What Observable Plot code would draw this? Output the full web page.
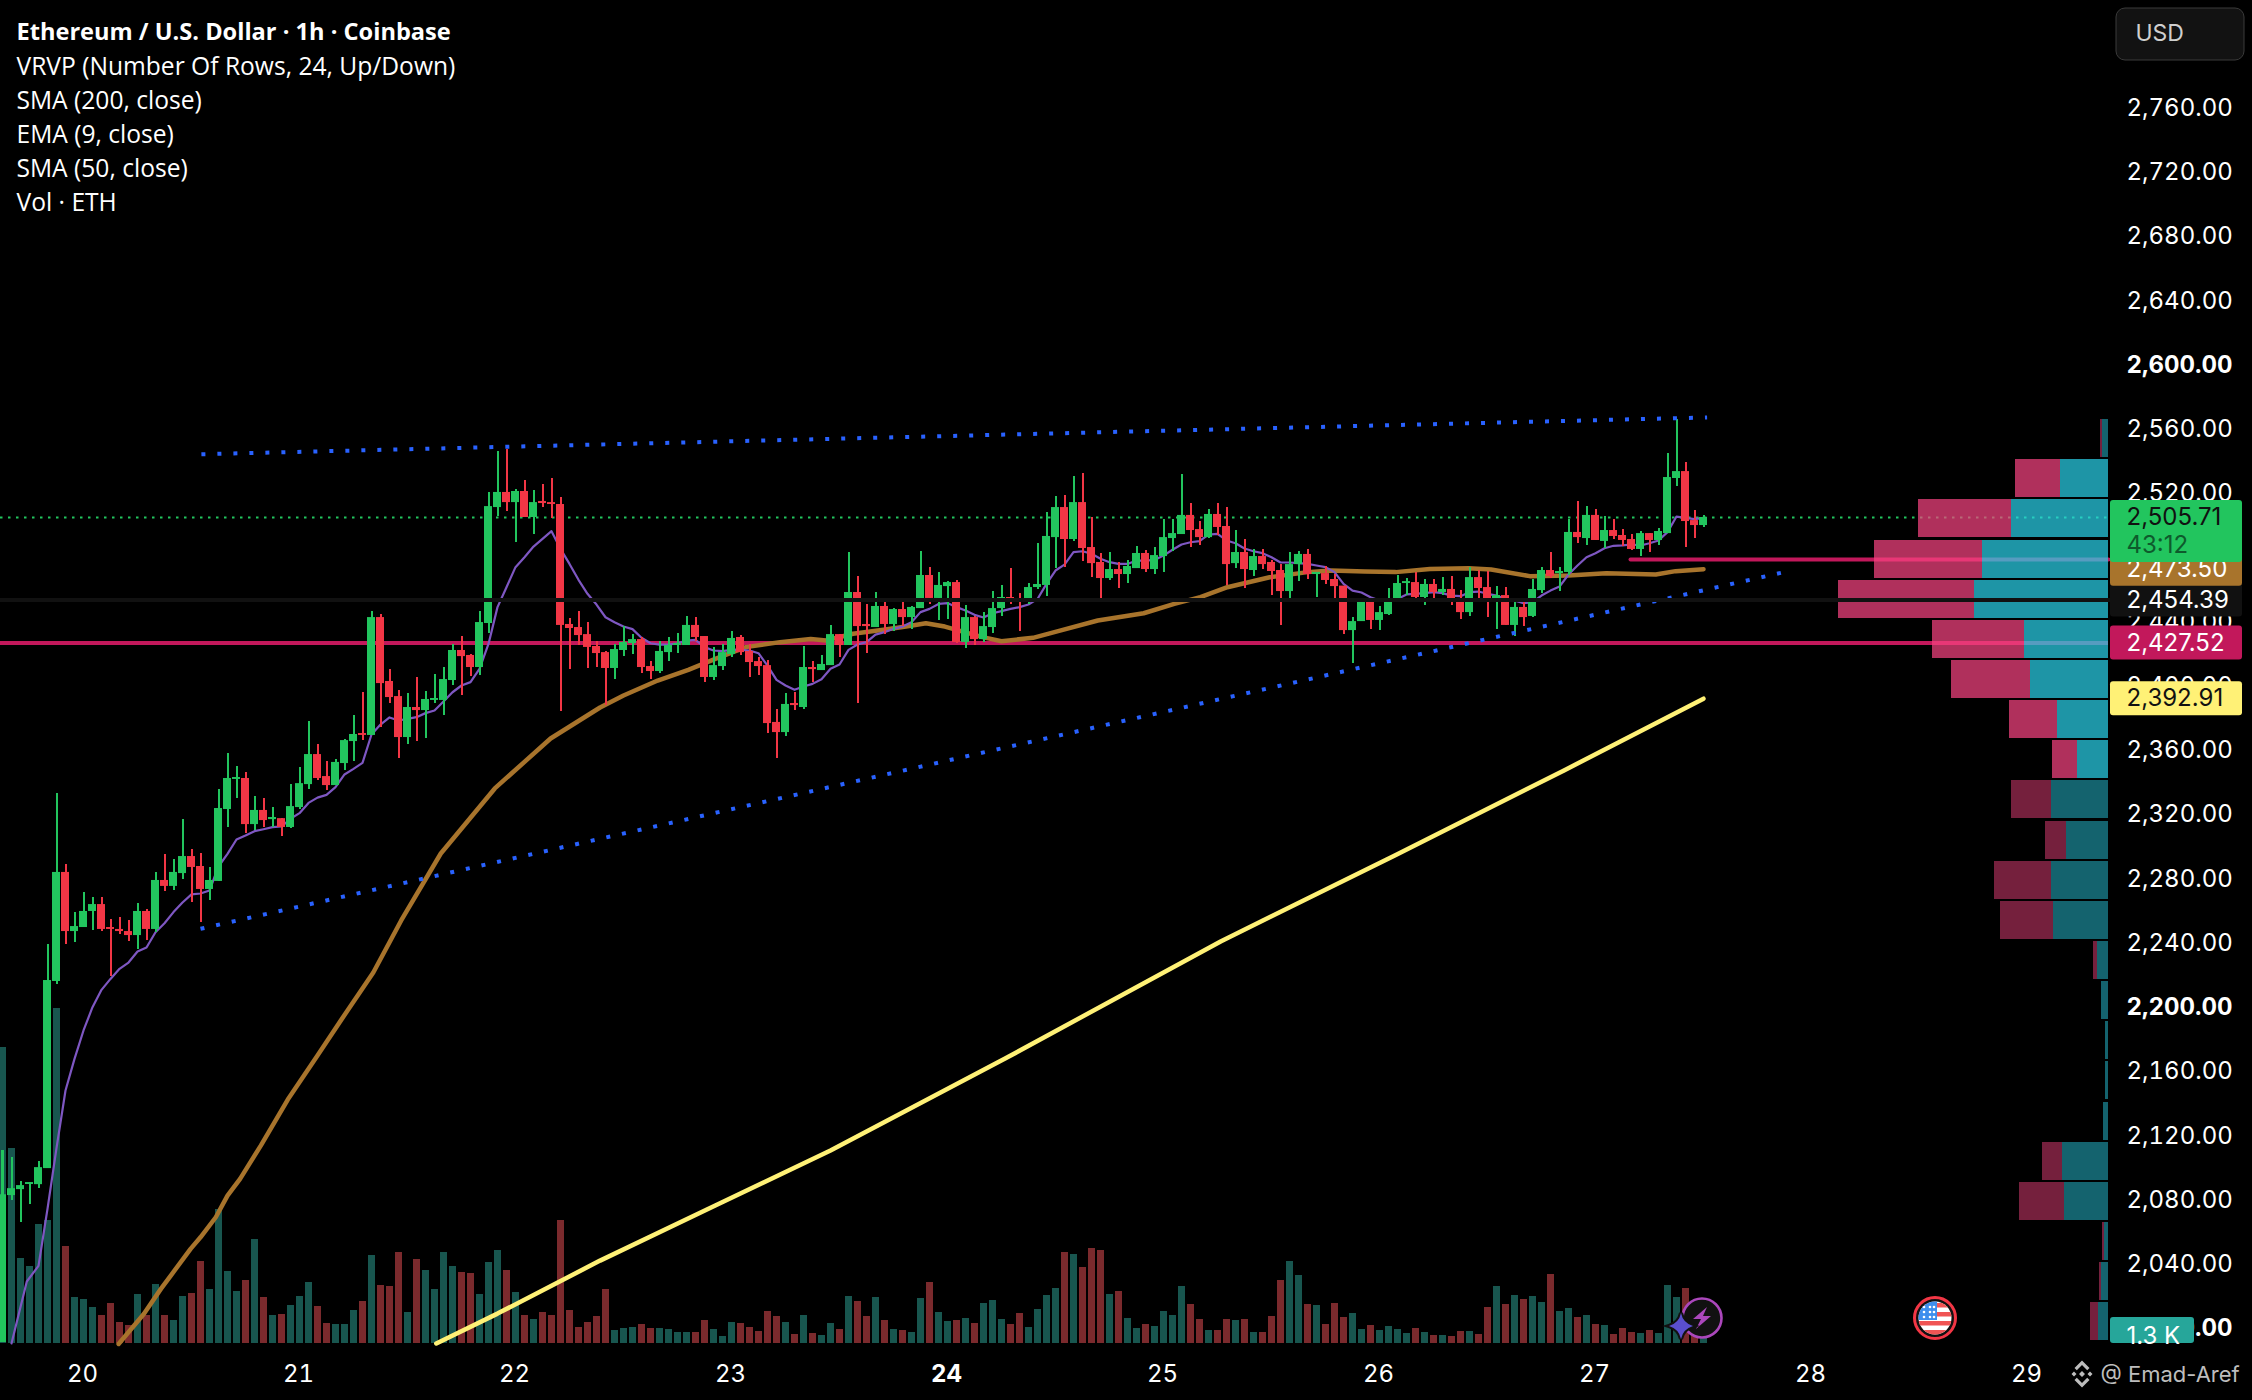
<!DOCTYPE html>
<html><head><meta charset="utf-8">
<script src="https://cdn.jsdelivr.net/npm/d3@7"></script>
<script src="https://cdn.jsdelivr.net/npm/@observablehq/plot@0.6"></script>
<style>html,body{margin:0;padding:0;background:#000}svg{display:block}</style>
</head><body><div id="chart"></div>
<script>
// hour index of the first bar, relative to day 20 00:00
const firstBar = -9;
const openP = [1992,2083.5,2087.2,2090.4,2090.3,2100.3,2216.8,2284.7,2247.9,
2250.4,2260.4,2264.7,2250.4,2249.2,2247.9,2245.4,2260.4,2249.2,2279.7,
2276,2284,2294.6,2288.4,2274.1,2279.1,2323.9,2342.6,2343.2,2314.5,
2323.3,2317.6,2318.2,2312.7,2325.1,2339.4,2358.1,2344.4,2338.8,2352.5,
2366.2,2371.2,2370,2443.4,2403.6,2394.2,2368.7,2387.4,2385.5,2391.8,
2391.8,2404.2,2422.9,2419.8,2412.3,2439.7,2511.9,2521.3,2515,2521.9,
2505.7,2515.7,2515,2513.8,2439.1,2437.2,2432.8,2425.4,2421.6,2411.7,
2422.9,2427.2,2429.7,2412.9,2409.8,2421.6,2426,2426,2438.5,2431.6,
2406.1,2412.9,2420.4,2431,2422.3,2416,2413.5,2378.1,2371.8,2389.9,
2387.4,2412.3,2410.4,2413.5,2432.8,2426,2459,2439.1,2437.2,2450.3,
2439.1,2448.4,2443.4,2449,2469.6,2455.3,2462.7,2465.2,2427.9,2443.4,
2429.7,2437.2,2449,2455.9,2454.6,2452.8,2462.1,2463.4,2493.2,2511.9,
2492,2515,2487,2477.7,2467.7,2473.3,2470.2,2473.9,2483.3,2473.3,
2481.4,2492.6,2495.1,2507,2498.2,2493.2,2507.6,2500.1,2477,2483.9,
2472.7,2481.4,2477.7,2472.7,2459.6,2476.4,2482.7,2470.2,2470.8,2467.1,
2463,2435.3,2440.9,2452.8,2441.6,2445.3,2454.6,2464.6,2465.2,2455.9,
2464,2459,2460.9,2452.8,2446.5,2468.3,2462.1,2452.8,2457.1,2438.5,
2449.7,2444.1,2460.2,2472.7,2470.8,2471.5,2496.4,2492.6,2507,2490.8,
2497.6,2494.5,2492,2485.8,2495.7,2491.4,2495.7,2530,2534.3,2503.8,2500.7];
const highP = [2111.5,2107,2092.2,2091.6,2104.7,2239.8,2333.6,2289.6,2259.7,
2272.2,2269,2269,2255.4,2256.6,2254.8,2265.4,2261.6,2284.7,2295.9,
2292.8,2317.7,2299,2296.5,2287.8,2336.3,2358.7,2350.7,2347,2332,
2330.7,2325.1,2318.3,2339.4,2350,2378.7,2364.3,2353.8,2355,2367.5,
2382.4,2396.7,2447.2,2445.3,2411,2398,2396.1,2406.1,2397.4,2407.9,
2412.3,2426.6,2431.6,2420.4,2447.2,2521.3,2546.8,2548,2523.1,2528.7,
2522.5,2526.2,2530,2518.2,2442.8,2447.2,2440.3,2428.5,2422,2426.6,
2437.8,2432.8,2431.2,2416,2428.5,2431,2433.5,2444.1,2443.4,2431.6,
2424.7,2426.6,2434.7,2432.2,2426.6,2418.5,2416.7,2386.1,2396.1,2396.7,
2425.4,2416,2419.8,2438.5,2432.8,2483.9,2469,2451.5,2459,2452.8,
2449,2452.8,2450.3,2484.5,2474.6,2471.5,2465.8,2466.5,2450.9,2444,
2446.5,2459.6,2463.4,2473.9,2458.4,2464.6,2489.5,2508.8,2518.8,2519.4,
2531.2,2533.1,2505.7,2483,2483.9,2477.7,2478.9,2487.6,2485.2,2487,
2504.5,2504.5,2532.5,2514.4,2503.2,2510.7,2514.4,2511.9,2497.6,2492,
2485.8,2485.8,2479,2476.4,2483.9,2484.5,2485.8,2471.5,2475.2,2470.2,
2463,2443.4,2454,2454,2450.3,2461.5,2469.6,2467.7,2471.7,2467.1,
2467.1,2468.3,2469,2460.3,2474.6,2472.7,2472.1,2462.7,2462.1,2452.8,
2452.8,2467.1,2474.6,2483.9,2474.6,2504.5,2515.7,2512.5,2510.7,2506.3,
2504.5,2498.2,2495.1,2497,2495.7,2498.9,2545.6,2567,2539.9,2510,2507];
const lowP = [1992,2080.4,2066.9,2077.9,2087.8,2100.3,2214.9,2239.8,2241,
2250.4,2248.5,2247.9,2219.9,2246,2241.7,2236.7,2242.3,2247.3,2272.8,
2273.4,2280.3,2266,2253.5,2267.2,2279.1,2312.7,2330.7,2309,2310.8,
2312.9,2312.7,2307,2312,2323.9,2336.3,2341.9,2335.7,2338.8,2348.2,
2353.8,2366.8,2370,2374.9,2389.9,2355.6,2364.4,2366.2,2368.1,2389.9,
2382.4,2401.1,2394.9,2406.7,2407.3,2433.5,2506.3,2509.4,2490.1,2505.7,
2495.1,2511.9,2505.1,2384.9,2411.1,2426,2411.7,2412.3,2388.6,2404.8,
2419.1,2420.4,2408.6,2404.8,2408.6,2416,2421,2426,2428.5,2403,
2404.2,2410.4,2418.5,2419.8,2406.1,2407.3,2371.2,2355.6,2369.3,2385.5,
2386.1,2403,2410.4,2413.5,2418.5,2426,2389.9,2421,2437.2,2432.8,
2434.7,2437.8,2436,2449,2451.5,2441.6,2442.2,2427.2,2424.1,2426,
2427.9,2433.5,2444.1,2451.5,2434.7,2451.5,2460.9,2456.3,2473.9,2474.6,
2490.8,2478.3,2468.3,2455.3,2466.5,2461.5,2464.6,2473.9,2471.5,2470.2,
2471.5,2484.5,2495.1,2487,2488.3,2492.6,2494.5,2463.4,2473.9,2461.5,
2469,2473.3,2457.1,2438.5,2454.6,2465.8,2467.1,2455.9,2464,2455,
2432.8,2414.8,2440.9,2436,2435.3,2444.7,2453.5,2457.1,2455,2450.9,
2455.3,2457.1,2451,2442.2,2444.1,2455,2443.4,2436,2438.5,2431.6,
2437.8,2443.4,2458.4,2467.9,2459.6,2469.6,2489.5,2488.3,2491.4,2486.4,
2492,2487.6,2485.2,2481.4,2483.9,2488.3,2495.7,2525,2487,2492.6,2499.5];
const closeP = [2084,2087.8,2089.7,2091.6,2100.9,2217.4,2284.7,2247.9,2251,
2260.4,2264.7,2249.2,2249.2,2247.9,2245.4,2260.4,2249.2,2279.7,2276,
2284.7,2294.6,2287.8,2274.1,2279.7,2324.5,2343.2,2343.8,2314.5,2323.3,
2317,2318.9,2312.7,2325.7,2340,2358.1,2343.2,2338.8,2353.2,2366.8,
2370.6,2370,2443.4,2402.3,2393.6,2368.7,2387.4,2385.5,2392.4,2393,
2404.8,2422.9,2419.1,2412.3,2440.3,2512.5,2521.3,2515,2521.9,2505.7,
2515,2514.4,2513.8,2438.5,2436.6,2432.2,2424.8,2421,2411.7,2423.5,
2427.9,2429.7,2412.3,2409.8,2422.3,2426,2427.2,2438.5,2431,2406.1,
2413.5,2421.6,2430.4,2421.6,2415.4,2412.9,2377.4,2371.8,2389.3,2388.6,
2412.3,2411,2414.2,2432.8,2426,2459,2437.8,2437.8,2450.3,2439.1,
2448.4,2443.4,2449.7,2469.6,2455.3,2463.4,2465.2,2427.9,2443.4,2429.7,
2437.8,2449,2455.9,2454.6,2452.8,2462.1,2464,2493.9,2511.9,2492,
2515,2486.4,2477,2467.7,2473.3,2470.2,2475.2,2483.3,2473.3,2482,
2493.2,2495.7,2507,2497.6,2493.2,2507.6,2499.5,2476.4,2483.9,2473.3,
2481.4,2476.4,2472.1,2459.6,2476.4,2482.7,2470.2,2471.5,2466.5,2462.7,
2435.3,2440.9,2453.5,2441.6,2446.5,2455,2464.6,2465.8,2455.9,2464,
2459,2460.9,2452.8,2446.5,2468.3,2461.5,2454.6,2457.1,2438.5,2449.7,
2443.4,2460.9,2472.7,2469,2472.1,2496.4,2493.2,2507,2491.4,2497.6,
2493.9,2491.4,2485.8,2495.7,2491.4,2497,2530.6,2534.3,2503.2,2500.7,2505.71];
// volume in thousands of ETH
const volumeK = [47.3,31.2,13.6,12.4,19.1,19.7,53.6,15.6,7.4,
7.1,5.8,4.5,6.4,3.3,2.8,7.9,4.4,9.5,4.5,
3.7,7.6,8,13.2,8.7,21.5,11.6,8.4,10.1,16.7,
7.4,4.5,4.6,6.1,7.5,9.8,5.9,3.2,3,3,
5.3,6.7,14.1,9.3,9.1,14.6,5,13.4,11.7,8.6,
14.6,12.3,11.4,11.2,7.8,13,14.9,11.7,8.2,4.5,
3.8,5,4.5,19.7,5.3,2.6,3.4,4.3,8.6,2.1,
2.4,2.6,3,2.4,2.4,2.2,1.8,1.8,1.8,3.7,
2.2,1.1,3.4,3.2,2.6,1.9,5.1,4.3,3.4,1.4,
4.5,1.6,1.3,3.2,2.2,7.5,6.7,4.3,7.4,3.7,
2.2,2.1,1.8,7.2,9.8,5,3.5,3.7,4,3.2,
6.4,6.9,3.8,3,4.8,2.6,5.4,7.7,8.8,14.6,
14.2,12.2,15.2,14.9,7.8,8.3,4,2.4,3,2.7,
5.1,4.5,9.1,6.2,3.8,2.1,2.1,3.8,3.7,3.8,
1.8,1.8,4.3,10.1,13.1,10.9,6.2,6.1,3,6.4,
4.2,4.8,2.2,2.9,2.1,2.7,2.2,1.6,2.4,1.8,
1.3,1.3,1.1,1.9,1.9,1.4,5.8,9.1,6.2,7.7,
7,7.5,6.6,11,5.1,5.6,4.2,4.5,3,2.9,
1.4,2.4,1.8,1.6,2.1,1.6,9.3,7.4,8.8,1.2,1.3];
const ema9Start = -4;
const ema9 = [2075.2,2113,2148.9,2168.6,
2186.3,2200.8,2211.6,2218.4,2224.7,2228.6,2235.5,2238,2247.5,2253.1,
2260,2266,2271,2271.6,2273.5,2288.4,2296.3,2305.2,2307.7,2310.4,
2311.6,2312.9,2313.3,2318.1,2321.6,2328,2331.3,2333,2337.8,2345.7,
2349.2,2352.9,2370.6,2376.8,2381.2,2379.3,2380.3,2381.4,2383.9,2385.5,
2391.1,2396.9,2401.1,2403.2,2411.5,2427,2449.9,2462.3,2474.8,2481,
2487.6,2492.4,2497.2,2486.2,2476.8,2466.9,2458.2,2451.5,2443.6,2440.5,
2437.8,2436.2,2430.8,2427.4,2426.6,2426.6,2427.4,2429.1,2429.5,2425,
2422.9,2422.5,2423.3,2423.3,2422.9,2421.2,2413.5,2404.6,2401.1,2398.4,
2400.5,2402.1,2405,2411.5,2414.2,2423.3,2426.6,2428.1,2432.8,2434.3,
2436.4,2437.8,2440.5,2446.8,2448.8,2451.9,2452.4,2449.9,2447.8,2445.1,
2443.4,2446.1,2447.4,2448.8,2449.9,2451.5,2455,2464.4,2472.7,2476.4,
2484.1,2484.7,2483.1,2480,2477.9,2476.8,2476.8,2478.9,2478.9,2479.3,
2482,2485.6,2488.9,2490.3,2491,2495.1,2495.5,2491.4,2489.7,2486.4,
2484.7,2483.5,2481,2477.7,2477.7,2477.3,2476.8,2475.8,2474.8,2471.7,
2464.4,2460.2,2459,2456.1,2454,2453.6,2455,2457.8,2458.2,2458.6,
2459.2,2458.6,2457.1,2456.7,2459.2,2459.6,2458.2,2457.1,2455,2454,
2452.4,2453,2457.1,2460.2,2462.7,2470.2,2475.8,2481,2483.5,2486.6,
2488.1,2488.3,2488.9,2488.3,2489.7,2491.4,2496.6,2506.3,2505.5,2504.7,2505.5];
const emaLeadBar = [-8,-6.3,-5], emaLead = [1991.4,2030,2039.7];
const sma50Bar = [3.9,6.7,8.6,9.7,11.9,13,14.7,16,17.4,19.7,22.7,26,29,32.2,35.3,39.7,45.7,51.9,57.4,60,63.8,67.2,70.2,73.6,77.4,80.8,82.5,85.5,88.9,91.4,93.6,95.7,99.9,102,105.5,108.5,112.7,117.8,121.2,124.1,127.1,131.8,136,138.6,142.4,145.8,149.6,153.9,156.4,160.7,165,169.2,174.7,176.9,180];
const sma50 = [1991.1,2009.8,2025.4,2033.7,2050.3,2057.5,2070,2083.5,2093.9,2114.6,2143.3,2170.7,2196,2222.4,2254.8,2296.5,2337,2368.1,2387.4,2394.9,2404.2,2410.8,2417.7,2425,2428.1,2430,2429.1,2433.3,2435.8,2437.8,2439.9,2437.8,2431.2,2428.7,2430.8,2435.3,2441.6,2446.1,2451.9,2456.1,2462.3,2468.5,2471.7,2472.7,2472.1,2471.7,2473.7,2474.1,2473.3,2469.2,2469.6,2471,2470.2,2472.3,2473.5];
const sma200Bar = [39.2,46,57.4,70.2,83,102.4,126.4,145.7,164.5,180];
const sma200 = [1991.4,2010,2043,2077.3,2111.6,2168.8,2241.9,2295.2,2348.2,2392.91];
const resistanceBar = [13.1,180.4], resistance = [2545.1,2568];
const supportBar = [13,189.6], support = [2249.6,2472.5];
// Visible-range profile, thousands of ETH per price row
const rowTop = [2566.7,2541.7,2516.7,2491.7,2466.7,2441.7,2416.7,2391.7,2366.7,2341.7,2316.7,2291.7,2266.7,2241.7,2216.7,2191.7,2166.7,2141.7,2116.7,2091.7,2066.7,2041.7,2016.7];
const rowUp = [3,24,48.5,63,67,42,39,25.5,15.5,28.5,21,28.5,27.5,5.5,3.5,1.5,1.5,2.5,23,22,2,3.5,5];
const rowDown = [1,22.5,46.5,54,68,46,39.5,24,12.5,20,10.5,28.5,26.5,2,0,0,0,0,10,22.5,1,1,4];
const rowInValueArea = [0,1,1,1,1,1,1,1,1,0,0,0,0,0,0,0,0,0,0,0,0,0,0];
const yTicks = [2760,2720,2680,2640,2560,2520,2440,2400,2360,2320,2280,2240,2160,2120,2080,2040];
const yTicksBold = [2600,2200,2000];
const dayTicks = [0,24,48,72,120,144,168,192,216];
const dayTickBold = [96];
const dayLabels = [20,21,22,23,24,25,26,27,28,29];
const lastPrice = 2505.71, sma50Last = 2473.5, hiddenLevel = 2454.39, supportLevel = 2427.52, sma200Last = 2392.91, upperLevel = 2479.6;
const legendTitle = "Ethereum / U.S. Dollar · 1h · Coinbase";
const legendLines = ["VRVP (Number Of Rows, 24, Up/Down)","SMA (200, close)","EMA (9, close)","SMA (50, close)","Vol · ETH"];

// ---------- tables -----------
const bars = openP.map((o,k)=>({i:firstBar+k,o,h:highP[k],l:lowP[k],c:closeP[k],v:volumeK[k],up:closeP[k]>=o}));
const zip = (xs,ys)=>xs.map((i,k)=>({i,p:ys[k]}));
const emaRows = [...zip(emaLeadBar,emaLead),...ema9.map((p,k)=>({i:ema9Start+k,p}))];
const profile = rowTop.map((top,k)=>({top,up:rowUp[k],down:rowDown[k],va:rowInValueArea[k]}));

// ---------- layout mapping -----------
const W=2252,H=1400,barPx=9,x0Px=83;
const ix = px => (px-x0Px)/barPx;                 // pixel → bar index
const pUnit = 1.606;                              // px per USD
const dP = px => px/pUnit;
const volBase = 1991.4, volScale = 3.89;           // volume pane sits on the price scale
const profRight = ix(2108), profK = 2/barPx;       // profile pane: 1K = 2 px
const GREEN="#22C55E",RED="#F23645",PINK="#C2185B";
const FONT="Inter";
const F=24;
const LABEL_X=2126;
const fmt = d=>d3.format(",.2f")(d);

function tag(price,y1,y2,fill,x2=2242){
  return Plot.rect([{}],{x1:ix(2110),x2:ix(x2),y1:price+dP(y1),y2:price+dP(y2),fill,r:3});
}
const tagText = (price,text,fill,dy=0,opts={}) => Plot.text([price],{y:d=>d,frameAnchor:"right",dx:LABEL_X-W,dy,text:()=>text,textAnchor:"start",fill,fontSize:F,fontFamily:FONT,lineAnchor:"middle",...opts});

function icons(index,{x,y}){
  const g=d3.create("svg:g");
  // US flag badge
  const f=g.append("g").attr("transform","translate(1935,1318)");
  f.append("circle").attr("r",20.5).attr("fill","#111").attr("stroke",RED).attr("stroke-width",3);
  const cp=d3.create("svg:clipPath").attr("id","flagclip"); cp.append("circle").attr("r",16.5);
  f.node().appendChild(cp.node());
  const fl=f.append("g").attr("clip-path","url(#flagclip)");
  fl.append("rect").attr("x",-17).attr("y",-17).attr("width",34).attr("height",34).attr("fill","#fff");
  [[-15,4.5],[-6,4.5],[3,4.5],[12,5]].forEach(([yy,h])=>fl.append("rect").attr("x",-17).attr("y",yy).attr("width",34).attr("height",h).attr("fill","#F05454"));
  fl.append("rect").attr("x",-17).attr("y",-17).attr("width",19).attr("height",19).attr("fill","#3E8EED");
  [[-11,-11],[-5,-11],[-11,-6],[-5,-6],[-11,-1],[-5,-1],[-1,-11],[-1,-6],[-1,-1]].forEach(([a,b])=>fl.append("circle").attr("cx",a).attr("cy",b).attr("r",1.3).attr("fill","#fff"));
  // lightning badge
  const l=g.append("g").attr("transform","translate(1702,1318)");
  l.append("circle").attr("r",19.5).attr("fill","#111").attr("stroke","#AB47BC").attr("stroke-width",2.6);
  l.append("path").attr("d","M5,-11 L-9,1 L-1,1 L-6,11 L9,-2 L1,-2 Z").attr("fill","#AB47BC");
  // AI star
  g.append("path").attr("transform","translate(1681,1326)").attr("d","M0,-13 Q2,-3 12,0 Q2,3 0,13 Q-2,3 -12,0 Q-2,-3 0,-13 Z").attr("fill","#5A4FCF").attr("stroke","#111").attr("stroke-width",4).attr("paint-order","stroke");
  // binance logo
  const b=g.append("g").attr("transform","translate(2082,1374)").attr("fill","#BDBDBD");
  b.append("path").attr("d","M0,-3 L3,0 L0,3 L-3,0 Z M-10.5,0 L-8,-2.5 L-5.5,0 L-8,2.5 Z M10.5,0 L8,-2.5 L5.5,0 L8,2.5 Z");
  b.append("path").attr("d","M0,-13.5 L7.5,-6 L5.2,-3.8 L0,-9 L-5.2,-3.8 L-7.5,-6 Z M0,13.5 L7.5,6 L5.2,3.8 L0,9 L-5.2,3.8 L-7.5,6 Z");
  // USD button
  const u=g.append("g");
  u.append("rect").attr("x",2116).attr("y",8).attr("width",128).attr("height",52).attr("rx",9).attr("fill","#121212").attr("stroke","#3a3a3a").attr("stroke-width",1);
  return g.node();
}

const chart = Plot.plot({
  width:W,height:H,margin:0,
  style:{background:"#000",fontFamily:FONT,color:"#fff"},
  x:{type:"linear",domain:[ix(0),ix(W)],range:[0,W],axis:null},
  y:{type:"linear",domain:[lastPrice-(H-517)/pUnit,lastPrice+517/pUnit],range:[H,0],axis:null},
  marks:[
    // volume pane
    Plot.rect(bars,{x1:d=>d.i-3.5/barPx,x2:d=>d.i+3.5/barPx,y1:volBase,y2:d=>volBase+d.v*volScale,fill:d=>d.up?"#18564F":"#7B2A2D",shapeRendering:"crispEdges"}),
    // horizontal levels
    Plot.ruleY([supportLevel],{x1:ix(0),x2:ix(2108),stroke:PINK,strokeWidth:4}),
    Plot.line([[ix(1630),upperLevel],[ix(2108),upperLevel]],{stroke:PINK,strokeWidth:4,strokeLinecap:"round"}),
    Plot.ruleY([lastPrice],{x1:ix(0),x2:ix(2108),stroke:GREEN,strokeWidth:2,strokeDasharray:"2.5,5.5"}),
    // moving averages
    Plot.line(zip(sma200Bar,sma200),{x:"i",y:"p",stroke:"#FFF176",strokeWidth:4.5,strokeLinecap:"round"}),
    Plot.line(zip(sma50Bar,sma50),{x:"i",y:"p",stroke:"#A8742C",strokeWidth:4.5,strokeLinecap:"round"}),
    Plot.line(emaRows,{x:"i",y:"p",stroke:"#7E57C2",strokeWidth:2.2}),
    // candles
    Plot.ruleX(bars,{x:"i",y1:"l",y2:"h",stroke:d=>d.up?GREEN:RED,strokeWidth:2,shapeRendering:"crispEdges"}),
    Plot.rect(bars,{x1:d=>d.i-4/barPx,x2:d=>d.i+4/barPx,y1:"o",y2:"c",fill:d=>d.up?GREEN:RED}),
    // trend lines
    Plot.line(zip(resistanceBar,resistance),{x:"i",y:"p",stroke:"#2962FF",strokeWidth:4,strokeDasharray:"4,12",strokeLinecap:"butt"}),
    Plot.line(zip(supportBar,support),{x:"i",y:"p",stroke:"#2962FF",strokeWidth:4,strokeDasharray:"4,12",strokeLinecap:"butt"}),
    // volume profile
    Plot.rect(profile,{x1:profRight,x2:d=>profRight-d.up*profK,y1:d=>d.top,y2:d=>d.top-dP(38),fill:"#2AD2EA",fillOpacity:d=>d.va?0.71:0.47,shapeRendering:"crispEdges"}),
    Plot.rect(profile,{x1:d=>profRight-d.up*profK,x2:d=>profRight-(d.up+d.down)*profK,y1:d=>d.top,y2:d=>d.top-dP(38),fill:"#F84482",fillOpacity:d=>d.va?0.71:0.47,shapeRendering:"crispEdges"}),
    Plot.ruleY([hiddenLevel],{x1:ix(0),x2:ix(2110),stroke:"#111",strokeWidth:4}),
    // axes
    Plot.axisY({anchor:"right",ticks:yTicks,tickSize:0,tickPadding:0,tickFormat:fmt,label:null,dx:LABEL_X-W,dy:-1,fontSize:F,fill:"#fff",fontFamily:FONT}),
    Plot.axisY({anchor:"right",ticks:yTicksBold,tickSize:0,tickPadding:0,tickFormat:fmt,label:null,dx:LABEL_X-W,dy:-1,fontSize:F,fill:"#fff",fontFamily:FONT,fontWeight:700}),
    Plot.axisX({anchor:"bottom",ticks:dayTicks,tickSize:0,tickPadding:0,tickFormat:d=>dayLabels[d/24],label:null,lineAnchor:"middle",dx:-1,dy:-26,fontSize:F,fill:"#fff",fontFamily:FONT}),
    Plot.axisX({anchor:"bottom",ticks:dayTickBold,tickSize:0,tickPadding:0,tickFormat:d=>dayLabels[d/24],label:null,lineAnchor:"middle",dx:-1,dy:-26,fontSize:F,fill:"#fff",fontFamily:FONT,fontWeight:700}),
    // price tags
    tag(sma200Last,17,-17,"#FFF176"),
    tagText(sma200Last,fmt(sma200Last),"#111"),
    tag(supportLevel,17,-17,PINK),
    tagText(supportLevel,fmt(supportLevel),"#fff"),
    tag(hiddenLevel,17,-17,"#111"),
    tagText(hiddenLevel,fmt(hiddenLevel),"#fff"),
    tag(sma50Last,17,-17,"#A8742C"),
    tagText(sma50Last,fmt(sma50Last),"#fff"),
    tag(lastPrice,17,-45,GREEN),
    tagText(lastPrice,fmt(lastPrice),"#111"),
    tagText(lastPrice,"43:12","#0E5A2C",28),
    // 1.3K volume tag (sits on the pane's floor)
    Plot.rect([{}],{x1:ix(2110),x2:ix(2194),y1:volBase,y2:volBase+dP(26),fill:"#26A69A",r:3}),
    Plot.text(["1.3 K"],{frameAnchor:"bottom-right",dx:LABEL_X-W,dy:-57,text:d=>d,textAnchor:"start",fill:"#fff",fontSize:F,fontFamily:FONT}),
    // decorations
    icons,
    Plot.text(["USD"],{frameAnchor:"top-left",dx:2135,dy:33,text:d=>d,textAnchor:"start",lineAnchor:"middle",fill:"#CFCFCF",fontSize:23,fontFamily:FONT}),
    Plot.text(["@ Emad-Aref"],{frameAnchor:"bottom-left",dx:2100,dy:-26,text:d=>d,textAnchor:"start",lineAnchor:"middle",fill:"#BDBDBD",fontSize:22,fontFamily:FONT}),
    // legend
    Plot.text([legendTitle],{frameAnchor:"top-left",dx:16,dy:32,text:d=>d,textAnchor:"start",lineAnchor:"middle",fill:"#fff",fontSize:23.6,fontWeight:700,fontFamily:"Open Sans"}),
    Plot.text([legendLines.join("\n")],{frameAnchor:"top-left",dx:16,dy:50,text:d=>d,textAnchor:"start",lineAnchor:"top",lineHeight:34/24.6,fill:"#fff",fontSize:24.6,fontFamily:"Open Sans"})
  ]
});
document.getElementById("chart").appendChild(chart);
</script></body></html>
